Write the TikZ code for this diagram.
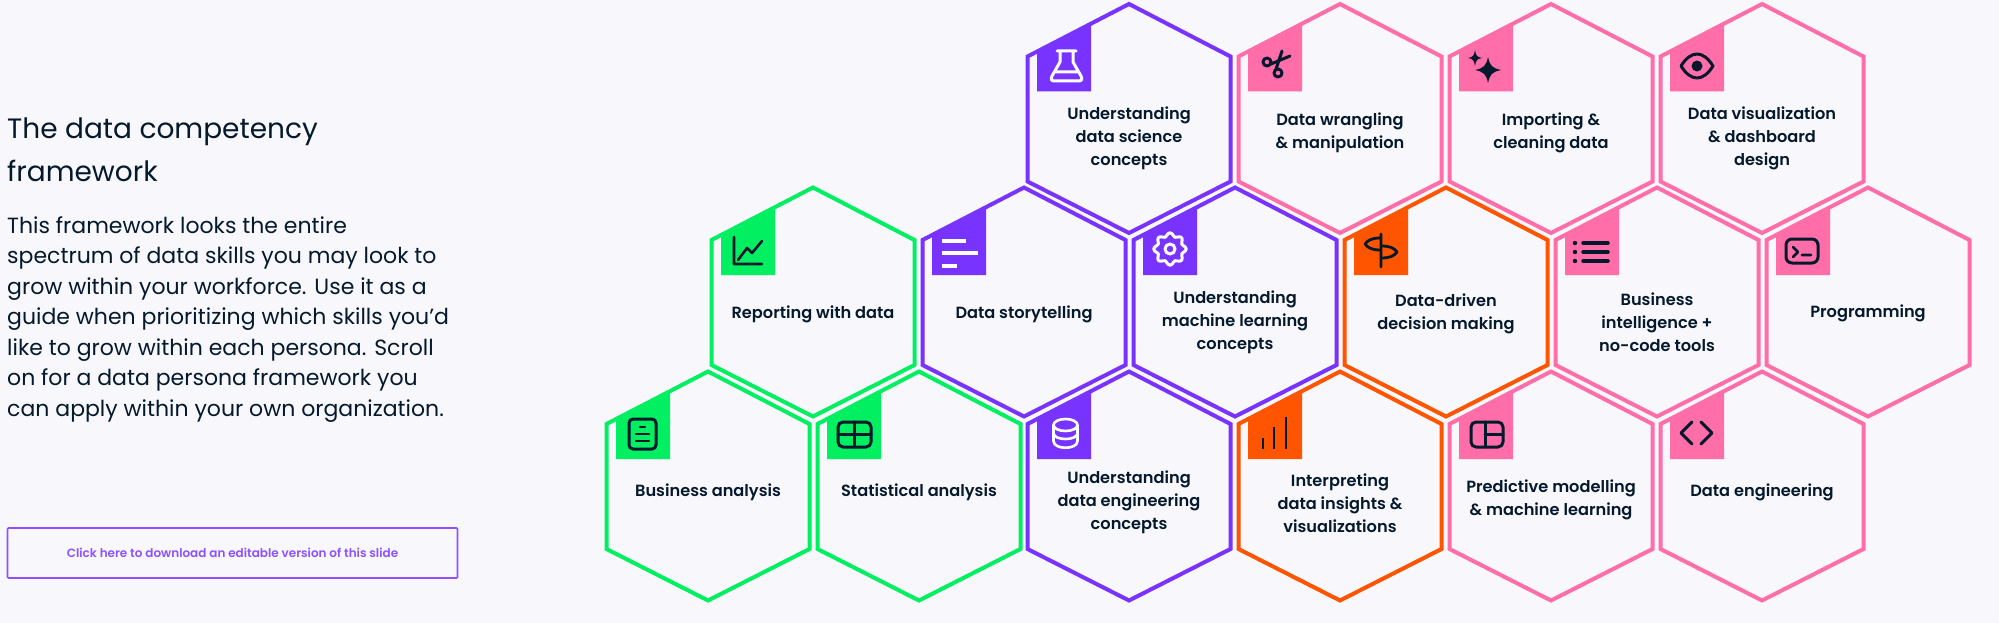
\documentclass[tikz,border=0pt]{standalone}
\usepackage{fontspec}
\setmainfont{Poppins}[BoldFont={Poppins SemiBold}]
\definecolor{pagebg}{HTML}{F7F7FC}
\definecolor{ink}{HTML}{05192D}
\definecolor{dcpurple}{HTML}{7933FF}
\definecolor{dcpink}{HTML}{FF6EA9}
\definecolor{dcgreen}{HTML}{03EF62}
\definecolor{dcorange}{HTML}{FF5400}
\tikzset{
    celltext/.style={text=ink, align=center, font=\fontsize{16.2}{23}\selectfont\bfseries, inner sep=0pt},
    icon/.style={draw=ink, line width=3pt, line cap=round, line join=round},
    iconw/.style={icon, draw=white},
}
% hexagon with the corner tab: centre x, centre y, colour
\newcommand{\hexcell}[3]{
    \draw[#3, line width=4pt, miter limit=10] (#1,#2-114.5) -- (#1+101.5,#2-62) -- (#1+101.5,#2+63) -- (#1,#2+114.5) -- (#1-101.5,#2+63) -- (#1-101.5,#2-62) -- cycle;
    \fill[#3] (#1-92,#2-67) -- (#1-38,#2-95) -- (#1-38,#2-27) -- (#1-92,#2-27) -- cycle;
}
\begin{document}
\begin{tikzpicture}[x=1pt, y=-1pt]
    \fill[pagebg] (0,0) rectangle (1999,623);

    % left column
    \node[anchor=north west, text=ink, align=left, inner sep=0pt, font=\fontsize{28}{43}\selectfont] (title) at (7,118) {The data competency\\framework};
    \node[anchor=north west, text=ink, align=left, inner sep=0pt, font=\fontsize{22}{30.5}\selectfont] (body) at (7,216) {This framework looks the entire\\spectrum of data skills you may look to\\grow within your workforce. Use it as a\\guide when prioritizing which skills you’d\\like to grow within each persona. Scroll\\on for a data persona framework you\\can apply within your own organization.};
    \node[draw=dcpurple!85!white, line width=1.6pt, rounded corners=1pt, minimum width=450pt, minimum height=50pt, text=dcpurple!85!white, font=\fontsize{12}{14}\selectfont\bfseries] (download) at (232.5,553) {Click here to download an editable version of this slide};

    % top row
    \hexcell{1129}{118.5}{dcpurple}
    \hexcell{1340}{118.5}{dcpink}
    \hexcell{1551}{118.5}{dcpink}
    \hexcell{1762}{118.5}{dcpink}
    % middle row
    \hexcell{813}{302}{dcgreen}
    \hexcell{1024}{302}{dcpurple}
    \hexcell{1235}{302}{dcpurple}
    \hexcell{1446}{302}{dcorange}
    \hexcell{1657}{302}{dcpink}
    \hexcell{1868}{302}{dcpink}
    % bottom row
    \hexcell{708}{486}{dcgreen}
    \hexcell{919}{486}{dcgreen}
    \hexcell{1129}{486}{dcpurple}
    \hexcell{1340}{486}{dcorange}
    \hexcell{1551}{486}{dcpink}
    \hexcell{1762}{486}{dcpink}

    \node[celltext] (sciconcepts) at (1129,138) {Understanding\\data science\\concepts};
    \node[celltext] (wrangling) at (1340,133) {Data wrangling\\\& manipulation};
    \node[celltext] (importing) at (1551,133) {Importing \&\\cleaning data};
    \node[celltext] (dataviz) at (1762,138) {Data visualization\\\& dashboard\\design};
    \node[celltext] (reporting) at (813,314) {Reporting with data};
    \node[celltext] (storytelling) at (1024,314) {Data storytelling};
    \node[celltext] (mlconcepts) at (1235,322) {Understanding\\machine learning\\concepts};
    \node[celltext] (decisions) at (1446,313.5) {Data-driven\\decision making};
    \node[celltext] (bitools) at (1657,322) {Business\\intelligence +\\no-code tools};
    \node[celltext] (programming) at (1868,313) {Programming};
    \node[celltext] (busanalysis) at (708,492) {Business analysis};
    \node[celltext] (statanalysis) at (919,492) {Statistical analysis};
    \node[celltext] (engconcepts) at (1129,502) {Understanding\\data engineering\\concepts};
    \node[celltext] (insights) at (1340,503) {Interpreting\\data insights \&\\visualizations};
    \node[celltext] (predictive) at (1551,499.5) {Predictive modelling\\\& machine learning};
    \node[celltext] (dataeng) at (1762,492) {Data engineering};

    % icons, top row
    \draw[iconw] (1057,51) -- (1076,51) (1060,51) -- (1060,62) -- (1052,76) .. controls (1050,80) and (1052,81) .. (1055,81) -- (1078,81) .. controls (1081,81) and (1083,80) .. (1081,76) -- (1073,62) -- (1073,51) (1056,72) -- (1077,72);
    \draw[icon] (1267,62) circle (4) (1278,73) circle (4) (1271,64) -- (1290,56) (1276,69) -- (1282,51);
    \fill[ink] (1475,50) .. controls (1476,56) and (1477,57) .. (1482,58) .. controls (1477,59) and (1476,60) .. (1475,66) .. controls (1474,60) and (1473,59) .. (1468,58) .. controls (1473,57) and (1474,56) .. (1475,50) -- cycle;
    \fill[ink] (1488,57) .. controls (1490,66) and (1492,68) .. (1501,70) .. controls (1492,72) and (1490,74) .. (1488,83) .. controls (1486,74) and (1484,72) .. (1475,70) .. controls (1484,68) and (1486,66) .. (1488,57) -- cycle;
    \draw[icon] (1681,66) .. controls (1691,50) and (1703,50) .. (1713,66) .. controls (1703,82) and (1691,82) .. (1681,66) -- cycle;
    \fill[ink] (1697,66) circle (5.5);

    % icons, middle row
    \draw[icon, line width=2.6pt] (734,237) -- (734,264) -- (762,264) (738,260) -- (747,248) -- (752,253) -- (762,241);
    \draw[iconw, line cap=butt, line width=3.6pt] (942,241) -- (966,241) (942,253) -- (978,253) (942,266) -- (957,266);
    \draw[iconw] plot[smooth cycle, samples=48, domain=0:352.5, variable=\t] ({1170+14.5*cos(\t)+1.8*cos(8*\t)*cos(\t)},{249+14.5*sin(\t)+1.8*cos(8*\t)*sin(\t)});
    \draw[iconw] (1170,249) circle (5);
    \draw[icon, line width=2.8pt] (1381,234) -- (1381,267) (1381,238) .. controls (1372,238) and (1368,240) .. (1365,244) .. controls (1368,248) and (1372,250) .. (1381,250) (1381,246) .. controls (1390,246) and (1394,248) .. (1397,252) .. controls (1394,256) and (1390,258) .. (1381,258);
    \draw[icon, line width=3.5pt] (1583,243) -- (1608,243) (1583,252) -- (1608,252) (1583,261) -- (1608,261);
    \fill[ink] (1575,243) circle (2.2) (1575,252) circle (2.2) (1575,261) circle (2.2);
    \draw[icon, rounded corners=6pt] (1786,239) rectangle (1818,263);
    \draw[icon, line width=2.6pt] (1793,247) -- (1798,252) -- (1793,257) (1802,255) -- (1811,255);

    % icons, bottom row
    \draw[icon, rounded corners=4pt] (629,419) rectangle (656,449);
    \draw[icon, line width=2.4pt] (640,427) -- (645,427) (636,434) -- (649,434) (636,441) -- (649,441);
    \draw[icon, rounded corners=5pt] (838,422) rectangle (871,447);
    \draw[icon] (854.5,422) -- (854.5,447) (838,434.5) -- (871,434.5);
    \draw[iconw, line width=2.6pt] (1065.5,425) ellipse (12 and 6) (1053.5,425) -- (1053.5,441) .. controls (1053.5,450) and (1077.5,450) .. (1077.5,441) -- (1077.5,425) (1053.5,433) .. controls (1053.5,441) and (1077.5,441) .. (1077.5,433);
    \draw[icon, line width=2.8pt, line cap=butt] (1263,438) -- (1263,449) (1274,427) -- (1274,449) (1286,417) -- (1286,449);
    \draw[icon, rounded corners=5pt] (1471,422) rectangle (1503,447);
    \draw[icon] (1485,422) -- (1485,447) (1485,434.5) -- (1503,434.5);
    \draw[icon] (1692,422) -- (1681,433) -- (1692,444) (1701,422) -- (1712,433) -- (1701,444);
\end{tikzpicture}
\end{document}
